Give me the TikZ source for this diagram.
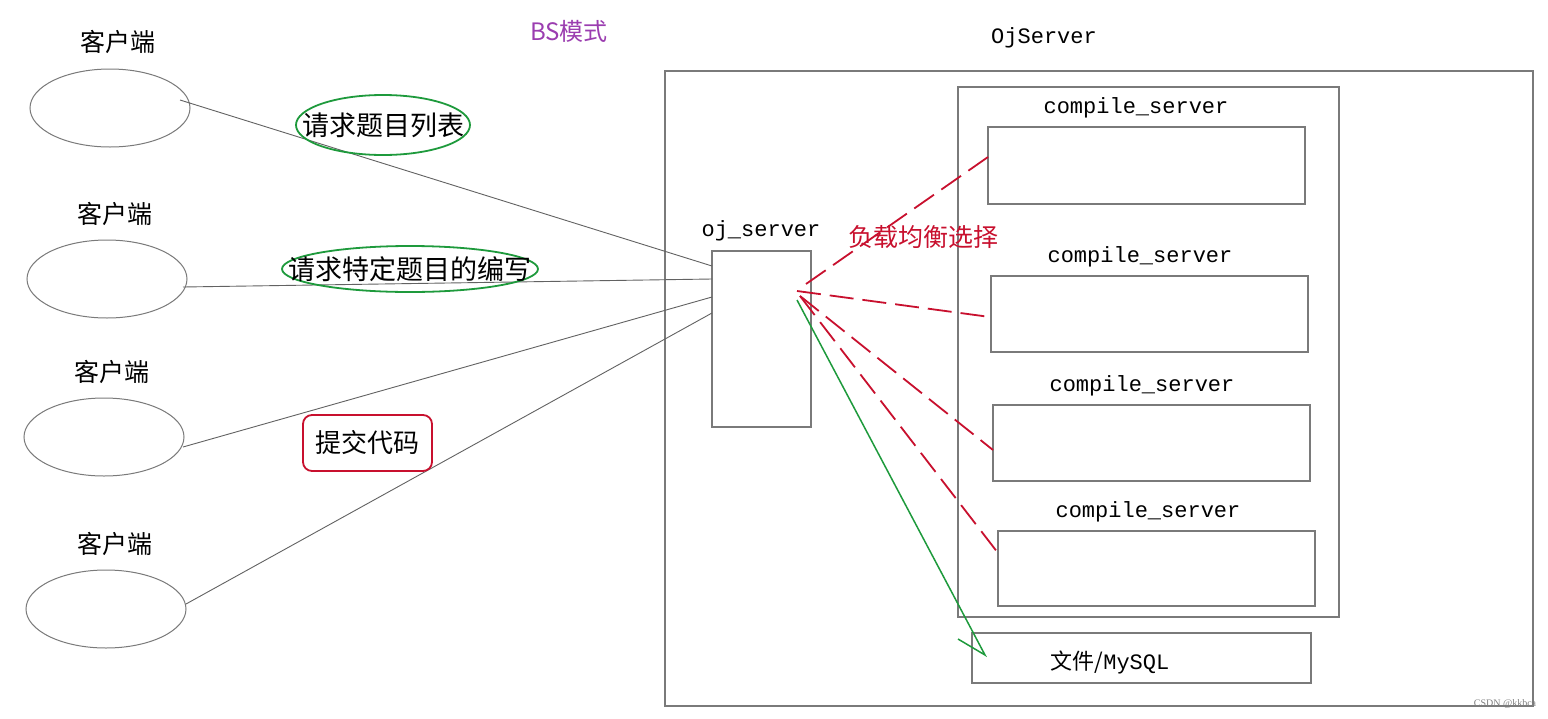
\documentclass[tikz,border=0pt]{standalone}
\usepackage{fontspec}
\setmainfont{Liberation Serif}
\newfontfamily\cjk{Noto Sans CJK SC}
\newfontfamily\mono{Liberation Mono}
\usetikzlibrary{shapes.geometric}
\definecolor{lgray}{HTML}{7A7A7A}
\definecolor{redl}{HTML}{C8102E}
\definecolor{greenl}{HTML}{1E9A3C}
\definecolor{purp}{HTML}{9B3DB0}
\begin{document}
\begin{tikzpicture}[x=1pt,y=-1pt,
  client/.style={ellipse,draw=lgray,line width=1pt,minimum width=160pt,minimum height=78pt,inner sep=0pt},
  cltext/.style={font=\cjk\fontsize{25}{27}\selectfont},
  box/.style={draw=lgray,line width=1.2pt,inner sep=0pt},
  monotext/.style={font=\mono\fontsize{22}{24}\selectfont},
  conn/.style={draw=lgray!80!black,line width=0.9pt},
  lb/.style={line width=1.8pt,dash pattern=on 24pt off 9pt,draw=redl},
  tag/.style={font=\cjk\fontsize{27}{29}\selectfont,inner sep=0pt}
]
\useasboundingbox (0,0) rectangle (1548,718);
\fill[white] (0,0) rectangle (1548,718);

% clients
\node[cltext] (l1) at (118,42) {客户端};
\node[client] (c1) at (110,108) {};
\node[cltext] (l2) at (115,214) {客户端};
\node[client] (c2) at (107,279) {};
\node[cltext] (l3) at (112,372) {客户端};
\node[client] (c3) at (104,437) {};
\node[cltext] (l4) at (115,544) {客户端};
\node[client] (c4) at (106,609) {};

\node[font=\cjk\fontsize{24}{26}\selectfont,text=purp] (bs) at (569,31) {BS模式};
\node[monotext] (ojt) at (1044,38) {OjServer};

% boxes
\node[box,minimum width=868pt,minimum height=635pt] (outer) at (1099,388.5) {};
\node[box,minimum width=381pt,minimum height=530pt] (inner) at (1148.5,352) {};
\node[box,minimum width=317pt,minimum height=77pt] (cs1) at (1146.5,165.5) {};
\node[box,minimum width=317pt,minimum height=76pt] (cs2) at (1149.5,314) {};
\node[box,minimum width=317pt,minimum height=76pt] (cs3) at (1151.5,443) {};
\node[box,minimum width=317pt,minimum height=75pt] (cs4) at (1156.5,568.5) {};
\node[box,minimum width=339pt,minimum height=50pt] (db) at (1141.5,658) {};
\node[box,minimum width=99pt,minimum height=176pt] (oj) at (761.5,339) {};

\node[monotext] (t1) at (1136,108) {compile\_server};
\node[monotext] (t2) at (1140,257) {compile\_server};
\node[monotext] (t3) at (1142,386) {compile\_server};
\node[monotext] (t4) at (1148,512) {compile\_server};
\node[monotext] (ojl) at (761,231) {oj\_server};
\node[font=\cjk\fontsize{22}{24}\selectfont] (dbt) at (1110,662) {文件/\mono\fontsize{22}{24}\selectfont MySQL};

% connector endpoints
\coordinate (s1) at (180,100);
\coordinate (s2) at (183,287);
\coordinate (s3) at (183,447);
\coordinate (s4) at (186,604);
\coordinate (e1) at (712,266);
\coordinate (e2) at (712,279);
\coordinate (e3) at (712,297);
\coordinate (e4) at (712,313);

\draw[conn] (s1) -- (e1);
\draw[conn] (s2) -- (e2);
\draw[conn] (s3) -- (e3);
\draw[conn] (s4) -- (e4);

% labels on connectors
\node[ellipse,draw=greenl,line width=1.8pt,minimum width=174pt,minimum height=60pt,inner sep=0pt] (q1) at (383,125) {};
\node[tag] at (q1) {请求题目列表};
\node[ellipse,draw=greenl,line width=1.8pt,minimum width=256pt,minimum height=46pt,inner sep=0pt] (q2) at (410,269) {};
\node[tag] at (q2) {请求特定题目的编写};
\node[draw=redl,line width=1.8pt,rounded corners=9pt,minimum width=129pt,minimum height=56pt,inner sep=0pt,fill=white] (q3) at (367.5,443) {};
\node[tag,font=\cjk\fontsize{26}{28}\selectfont] at (q3) {提交代码};

% load balancing
\coordinate (h0) at (806,284);
\coordinate (h) at (797,291);
\coordinate (h2) at (800,296);
\coordinate (a1) at (988,157);
\coordinate (a2) at (990,317);
\coordinate (a3) at (993,450);
\coordinate (a4) at (998,553);
\draw[lb] (h0) -- (a1);
\draw[lb] (h) -- (a2);
\draw[lb] (h2) -- (a3);
\draw[lb] (h2) -- (a4);
\node[font=\cjk\fontsize{25}{27}\selectfont,text=redl] (lbt) at (923,237) {负载均衡选择};

% green arrow
\coordinate (g0) at (797,300);
\coordinate (gt) at (985,655);
\coordinate (gh) at (958,639);
\draw[greenl,line width=1.5pt] (g0) -- (gt) -- (gh);

\node[font=\fontsize{10}{11}\selectfont,text=gray] (wm) at (1505,704) {CSDN @kkbca};
\end{tikzpicture}
\end{document}
